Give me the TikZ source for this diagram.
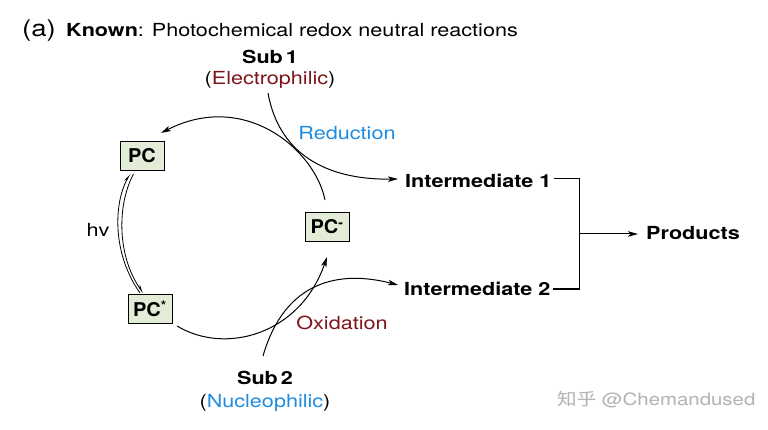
\documentclass[tikz,border=0pt]{standalone}
\usepackage{fontspec}
\setmainfont[FakeStretch=1.2]{TeX Gyre Heros}
\newfontfamily\boxfont[FakeStretch=1.05]{TeX Gyre Heros}
\newfontfamily\cjk[FakeStretch=1.15]{Noto Sans CJK SC}
\usetikzlibrary{arrows.meta}
\definecolor{redu}{RGB}{30,140,225}
\definecolor{oxid}{RGB}{125,20,25}
\definecolor{boxfill}{RGB}{226,236,214}
\tikzset{
  pcbox/.style={draw=black, fill=boxfill, line width=1pt, inner sep=0pt, minimum width=44pt, minimum height=29pt, font=\boxfont\fontsize{19}{21}\selectfont\bfseries},
  lbl/.style={inner sep=0pt, font=\fontsize{18}{21}\selectfont},
  blbl/.style={inner sep=0pt, font=\fontsize{18}{21}\selectfont\bfseries},
  arr/.style={line width=1pt, -{Stealth[length=10pt,width=5.5pt,inset=2.5pt]}},
  ln/.style={line width=1pt},
  harp/.style={line width=0.8pt, -{Stealth[length=7pt,width=4pt,inset=2pt,harpoon]}}
}
\begin{document}
\begin{tikzpicture}[x=1pt,y=-1pt]
\useasboundingbox (0,0) rectangle (768,430);
\fill[white] (0,0) rectangle (768,430);
% title
\node[anchor=base west, inner sep=0pt, font=\fontsize{23}{25}\selectfont] (ta) at (22,37) {(a)};
\node[anchor=base west, inner sep=0pt, font=\fontsize{18}{20}\selectfont] (title) at (66,37) {\textbf{Known}: Photochemical redox neutral reactions};
% sub 1
\node[blbl] (sub1) at (270,57) {Sub\,1};
\node[lbl] (el) at (270,80) {(\textcolor{oxid}{Electrophilic})};
% PC boxes
\node[pcbox] (pc) at (142,156) {PC};
\node[pcbox] (pcm) at (327,227) {PC\textsuperscript{-}};
\node[pcbox] (pcs) at (150,309) {PC\textsuperscript{*}};
% labels
\node[lbl] (hv) at (98,230) {hv};
\node[lbl, text=redu] (red) at (347,133) {Reduction};
\node[lbl, text=oxid] (ox) at (342,323) {Oxidation};
\node[blbl, anchor=west] (i1) at (405,181) {Intermediate 1};
\node[blbl, anchor=west] (i2) at (404,289) {Intermediate 2};
\node[blbl, anchor=west] (prod) at (646,233) {Products};
\node[blbl] (sub2) at (265,378) {Sub\,2};
\node[lbl] (nu) at (265,403) {(\textcolor{redu}{Nucleophilic})};
% watermark
\node[inner sep=0pt, anchor=west, text=black!30, font=\fontsize{17}{20}\selectfont] (wm) at (557,400) {{\cjk 知乎} @Chemandused};
% coordinates
\coordinate (c1s) at (325,200);
\coordinate (c1e) at (161,133);
\coordinate (c2s) at (177,326);
\coordinate (c2e) at (327,257);
\coordinate (s1s) at (268,93);
\coordinate (s1e) at (398,179);
\coordinate (s2s) at (263,356);
\coordinate (s2e) at (398,285);
\coordinate (j1) at (579,179);
\coordinate (j2) at (579,289);
\coordinate (jm) at (579,234);
\coordinate (h1) at (130,174);
\coordinate (h2) at (140,293);
% cycle
\draw[arr] (c1s) .. controls (315,150) and (245,90) .. (c1e);
\draw[arr] (c2s) .. controls (225,355) and (300,335) .. (c2e);
% substrate arcs
\draw[arr] (s1s) .. controls (280,160) and (335,180) .. (s1e);
\draw[arr] (s2s) .. controls (285,280) and (340,270) .. (s2e);
% hv
\draw[harp] (h2) .. controls (113,255) and (113,205) .. (h1);
\draw[harp] ([xshift=3.5pt]h1) .. controls (117,205) and (117,255) .. ([xshift=3pt]h2);
% intermediates to products
\draw[ln] (554,179) -- (j1) -- (j2) -- (553,289);
\draw[arr] (jm) -- (638,234);
\end{tikzpicture}
\end{document}
